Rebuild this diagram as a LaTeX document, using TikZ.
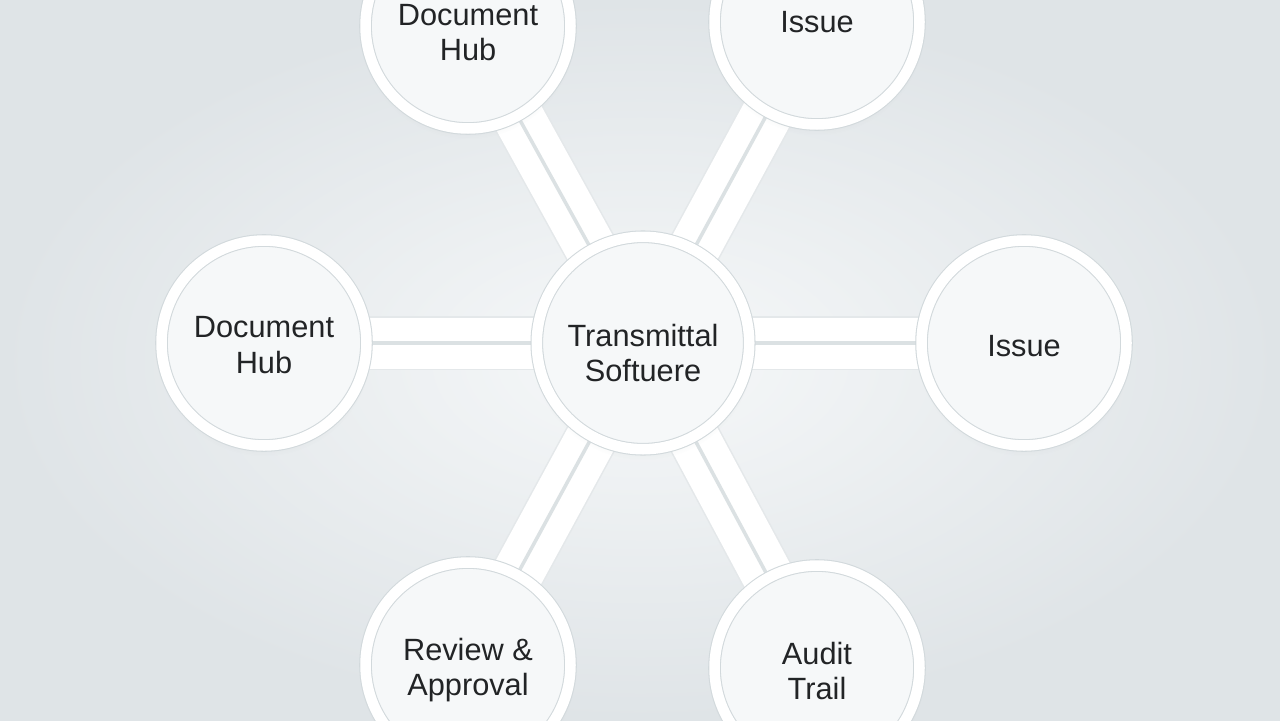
\documentclass[tikz,border=0pt]{standalone}
\usepackage{fontspec}
\setmainfont{Liberation Sans}
\usetikzlibrary{shadows,backgrounds}

\definecolor{bgout}{HTML}{DFE4E7}
\definecolor{bgin}{HTML}{F6F8F9}
\definecolor{disc}{HTML}{F6F8F9}
\definecolor{rim}{HTML}{D2D9DC}
\definecolor{ink}{HTML}{222426}

\tikzset{
  hub/.style={circle, minimum size=4.1cm, inner sep=0pt,
    fill=disc, draw=rim, line width=0.6pt, double=white, double distance=6pt,
    circular drop shadow={shadow xshift=0pt, shadow yshift=-3pt,
      shadow scale=1.05, opacity=.14, fill=rim!80!black}},
  tag/.style={align=center, text=ink, font=\fontsize{17.5}{20}\selectfont},
  link/.style={draw=rim!80, line width=2pt,
    preaction={draw=rim!60, line width=1.08cm},
    preaction={draw=white, line width=1.02cm}}
}

\begin{document}
\begin{tikzpicture}[x=0.02cm, y=-0.02cm]
  \begin{scope}[on background layer]
    \shade[inner color=bgin, outer color=bgout] (0,0) rectangle (1280,720);
  \end{scope}
  \useasboundingbox (0,0) rectangle (1280,720);

  \node[hub, minimum size=4.25cm] (soft) at (643,343) {};
  \node[hub] (hubTL) at (468,26) {};
  \node[hub] (issueTR) at (817,22) {};
  \node[hub] (hubL) at (264,343) {};
  \node[hub] (issueR) at (1024,343) {};
  \node[hub] (review) at (468,665) {};
  \node[hub] (audit) at (817,668) {};

  \node[tag] (softT) at (643,353) {Transmittal\\Softuere};
  \node[tag] (hubTLT) at (468,33) {Document\\Hub};
  \node[tag] (issueTRT) at (817,22) {Issue};
  \node[tag] (hubLT) at (264,345) {Document\\Hub};
  \node[tag] (issueRT) at (1024,346) {Issue};
  \node[tag] (reviewT) at (468,670) {Review \&\\Approval};
  \node[tag] (auditT) at (817,671) {Audit\\Trail};

  % connectors behind the discs
  \begin{scope}[on background layer]
    \foreach \n in {hubTL,issueTR,hubL,issueR,review,audit}
      \draw[link] (soft.center) -- (\n.center);
  \end{scope}
\end{tikzpicture}
\end{document}
